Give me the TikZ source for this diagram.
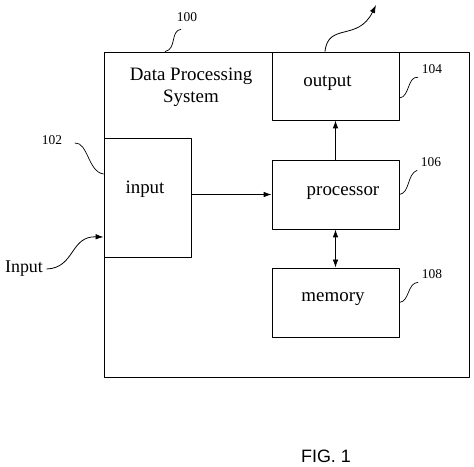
\documentclass[tikz,border=0pt]{standalone}
\usepackage{fontspec}
\setmainfont{Liberation Serif}
\newfontfamily\figfont{Liberation Sans}
\usetikzlibrary{arrows.meta}
\begin{document}
\begin{tikzpicture}[>={Latex[length=8bp,width=5.5bp]},line join=bevel,line width=0.8bp,
  box/.style={draw,minimum width=127bp,minimum height=69bp,inner sep=0pt},
  txt/.style={draw=none,font=\fontsize{19}{22}\selectfont,align=center},
  refnum/.style={draw=none,font=\fontsize{13.5}{15}\selectfont},
  lead/.style={black,line width=0.7bp}]
\useasboundingbox (0bp,0bp) rectangle (474bp,467bp);
%%
\node (node_system) at (286.5bp,252.5bp) [box,minimum width=365bp,minimum height=325bp] {};
  \node (node_output) at (335.5bp,381bp) [box,minimum height=68bp] {};
  \node (node_processor) at (335.5bp,272.5bp) [box] {};
  \node (node_memory) at (335.5bp,164.5bp) [box] {};
  \node (node_input) at (147.5bp,269.5bp) [box,minimum width=87bp,minimum height=119bp] {};
%
\node (text_system) at (191bp,380bp) [txt] {Data Processing\\System};
  \node (text_output) at (327.5bp,384bp) [txt] {output};
  \node (text_processor) at (343bp,274bp) [txt] {processor};
  \node (text_memory) at (333bp,168bp) [txt] {memory};
  \node (text_input) at (145bp,278bp) [txt] {input};
  \node (text_Input) at (24bp,198bp) [txt,font=\fontsize{18}{21}\selectfont] {Input};
  \node (text_fig) at (326bp,11bp) [txt,font=\figfont\fontsize{18}{21}\selectfont] {FIG. 1};
%
\node (node_100) at (187bp,450bp) [refnum] {100};
  \node (node_102) at (52bp,327bp) [refnum] {102};
  \node (node_104) at (432bp,398bp) [refnum] {104};
  \node (node_106) at (431bp,305bp) [refnum] {106};
  \node (node_108) at (432bp,193bp) [refnum] {108};
  \coordinate (out_tip) at (376bp,462bp);
%
\draw [black,->] (node_input.east |- node_processor.west) -- (node_processor.west);
  \draw [black,->] (node_processor.north) -- (node_output.south);
  \draw [black,<->] (node_memory.north) -- (node_processor.south);
  \draw [black,->] ([xshift=-10.5bp]node_output.north) ..controls (328bp,445bp) and (358bp,425bp) .. (out_tip);
  \draw [black,->] (text_Input.east) ..controls (75bp,199bp) and (70bp,231bp) .. ([yshift=-39.5bp]node_input.west);
%
\draw [lead] ([xshift=-121.5bp]node_system.north) ..controls (177bp,418bp) and (170bp,436bp) .. ([xshift=-6bp,yshift=-4bp]node_100.south);
  \draw [lead] ([xshift=9bp,yshift=-3bp]node_102.east) ..controls (88bp,325bp) and (88bp,295bp) .. ([yshift=23.5bp]node_input.west);
  \draw [lead] ([yshift=-12bp]node_output.east) ..controls (410bp,370bp) and (407bp,391bp) .. (node_104.south west);
  \draw [lead] (node_processor.east) ..controls (410bp,274bp) and (407bp,293bp) .. (node_106.south west);
  \draw [lead] (node_memory.east) ..controls (410bp,166bp) and (407bp,184bp) .. (node_108.south west);
%
\end{tikzpicture}
\end{document}
